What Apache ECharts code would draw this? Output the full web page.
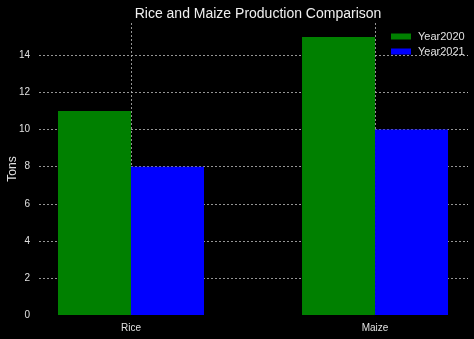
<!DOCTYPE html>
<html><head><meta charset="utf-8">
<script src="https://cdn.jsdelivr.net/npm/echarts@6/dist/echarts.min.js"></script>
<style>html,body{margin:0;padding:0;background:#000}#c{width:474px;height:339px}</style>
</head><body><div id="c"></div>
<script>
const categories = ['Rice', 'Maize'];
const year2020 = [11, 15];
const year2021 = [8, 10];
const seriesNames = ['Year2020', 'Year2021'];
const yTicks = [0, 2, 4, 6, 8, 10, 12, 14];

const FONT = 'Liberation Sans';
const chart = echarts.init(document.getElementById('c'));
const idx = categories.map((_, i) => i);
const lineStyle = {color: '#bbb', type: [2, 2], width: 0.8};
chart.setOption({
  backgroundColor: '#000',
  animation: false,
  title: {text: 'Rice and Maize Production Comparison', left: 253, top: 2, textAlign: 'center',
    textStyle: {color: '#f0f0f0', fontSize: 14, fontWeight: 'normal', fontFamily: FONT}},
  legend: {left: 386, top: 26, orient: 'vertical', itemWidth: 20, itemHeight: 6, itemGap: 4,
    icon: 'rect', textStyle: {color: '#e0e0e0', fontSize: 11, fontFamily: FONT, padding: [0, 0, 0, 2]},
    data: seriesNames},
  grid: {left: 39, right: 6, top: 23, bottom: 24, outerBoundsMode: 'none', containLabel: false},
  xAxis: {type: 'value', min: -0.377, max: 1.381,
    axisLine: {show: false},
    axisTick: {show: false, customValues: idx},
    axisLabel: {customValues: idx, color: '#e0e0e0', fontSize: 10, fontFamily: FONT, margin: 8,
      formatter: v => categories[Math.round(v)]},
    splitLine: {show: true, lineStyle: lineStyle}},
  yAxis: {type: 'value', min: 0, max: 15.75, interval: 2, name: 'Tons', nameLocation: 'middle', nameGap: 20,
    nameMoveOverlap: false,
    nameTextStyle: {color: '#e0e0e0', fontSize: 12, fontFamily: FONT},
    axisLine: {show: false}, axisTick: {show: false},
    axisLabel: {color: '#e0e0e0', fontSize: 10, fontFamily: FONT, margin: 9,
      formatter: v => yTicks.includes(v) ? String(v) : ''},
    splitLine: {show: true, showMinLine: false, showMaxLine: false, lineStyle: lineStyle}},
  series: [
    {name: seriesNames[0], type: 'bar', data: idx.map(i => [i, year2020[i]]), barWidth: 73, barGap: '0%',
      itemStyle: {color: '#008000'}},
    {name: seriesNames[1], type: 'bar', data: idx.map(i => [i, year2021[i]]), barWidth: 73, barGap: '0%',
      itemStyle: {color: '#0000ff'}}
  ]
});
</script></body></html>
